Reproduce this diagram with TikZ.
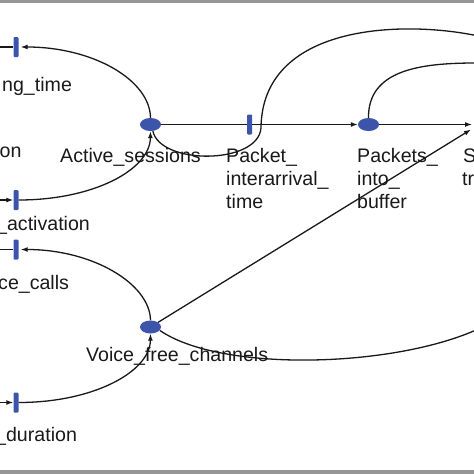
\documentclass[tikz,border=0pt]{standalone}
\usepackage{fontspec}
\setmainfont{Liberation Sans}
\usetikzlibrary{arrows.meta,shapes.geometric}
\definecolor{stockblue}{RGB}{60,85,170}
\definecolor{framegray}{RGB}{150,150,150}
\definecolor{inkblack}{RGB}{25,25,25}
\begin{document}
\begin{tikzpicture}[x=1pt,y=-1pt,
  flow/.style={line width=1.3pt, inkblack},
  arr/.style={flow,-{Latex[length=7pt,width=5pt]}},
  valve/.style={draw=none, fill=stockblue, rectangle, rounded corners=1pt, minimum width=5pt, minimum height=20pt, inner sep=0pt},
  aux/.style={ellipse, draw=none, fill=stockblue, minimum width=21pt, minimum height=13pt, inner sep=0pt},
  lbl/.style={anchor=base west, inner sep=0pt, text=inkblack, font=\fontsize{19.6}{23}\selectfont}
]
\useasboundingbox (0,0) rectangle (474,474);
\fill[framegray] (0,0) rectangle (474,3);
\fill[framegray] (0,470) rectangle (474,474);
\begin{scope}
\clip (0,3) rectangle (474,470);
% labels
\node[lbl] (lhold) at (2,91) {ng\_time};
\node[lbl] (lon) at (-0.5,157) {on};
\node[lbl] (lact) at (60,162) {Active\_sessions};
\node[lbl] (lactv) at (-4,230) {\_activation};
\node[lbl] (lpk1) at (226,162) {Packet\_};
\node[lbl] (lpk2) at (226,185) {interarrival\_};
\node[lbl] (lpk3) at (226,208) {time};
\node[lbl] (lpb1) at (357,162) {Packets\_};
\node[lbl] (lpb2) at (357,185) {into\_};
\node[lbl] (lpb3) at (357,208) {buffer};
\node[lbl] (ls1) at (463,162) {S};
\node[lbl] (ls2) at (462,185) {tr};
\node[lbl] (lcalls) at (-2,289) {ce\_calls};
\node[lbl] (lvf) at (86,361) {Voice\_free\_channels};
\node[lbl] (ldur) at (-5,441) {\_duration};
% stocks and valves
\node[valve] (v1) at (16,47) {};
\node[valve] (v2) at (16,200) {};
\node[valve] (v3) at (249.5,124.5) {};
\node[valve] (v4) at (16,249.5) {};
\node[valve] (v5) at (16,402.5) {};
\node[aux] (as) at (150.5,124.5) {};
\node[aux] (pb) at (368.5,124.5) {};
\node[aux] (vf) at (150.5,327) {};
\coordinate (w1) at (0,47);
\coordinate (w2) at (0,200);
\coordinate (w4) at (0,249.5);
\coordinate (w5) at (0,402.5);
\coordinate (e1) at (472,124.5);
\coordinate (e2) at (471,129.5);
\coordinate (e3) at (476,35.5);
\coordinate (e4) at (476,63);
\coordinate (e5) at (476,330);
\coordinate (hook) at (261,128);
% upper part
\draw[flow] (w1) -- (v1.west);
\draw[arr] (w2) -- (v2.west);
\draw[arr] (as.north) .. controls (150,80) and (93,47) .. ([xshift=2pt]v1.east);
\draw[arr] (v2.east) .. controls (93,200) and (150,170) .. (as.south);
\draw[flow] (as.east) -- (v3.west);
\draw[arr] (v3.east) -- (pb.west);
\draw[arr] (pb.east) -- (e1);
\draw[flow] (as.-70) .. controls (160,165) and (258,165) .. (hook)
  .. controls (262,25) and (400,20) .. (e3);
\draw[flow] (pb.north) .. controls (368,70) and (420,63) .. (e4);
% lower part
\draw[flow] (w4) -- (v4.west);
\draw[arr] (w5) -- (v5.west);
\draw[arr] (vf.north) .. controls (150,284) and (93,249.5) .. ([xshift=2pt]v4.east);
\draw[arr] (v5.east) .. controls (93,402.5) and (150,372) .. (vf.south);
\draw[arr] (vf) -- (e2);
\draw[flow] (vf.-20) .. controls (220,372) and (390,368) .. (e5);
\end{scope}
\end{tikzpicture}
\end{document}
